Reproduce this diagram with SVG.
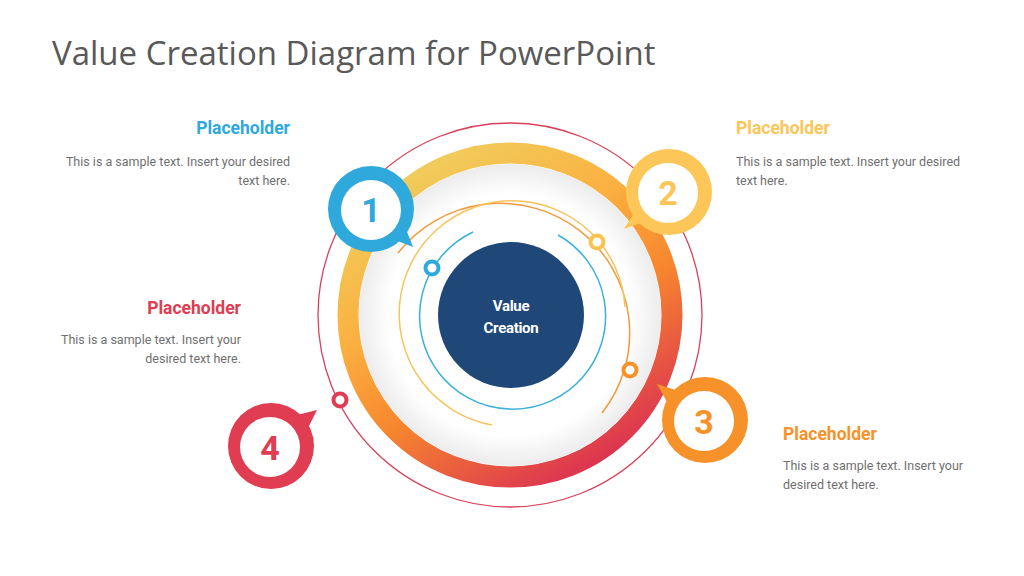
<svg xmlns="http://www.w3.org/2000/svg" width="1024" height="576" viewBox="0 0 1024 576">
<defs>
<linearGradient id="ring" x1="0.2" y1="0" x2="0.8" y2="1">
<stop offset="0" stop-color="#efd060"/>
<stop offset="0.35" stop-color="#fbb040"/>
<stop offset="0.6" stop-color="#f7862e"/>
<stop offset="1" stop-color="#d92a55"/>
</linearGradient>
<radialGradient id="disc" cx="0.5" cy="0.5" r="0.5">
<stop offset="0.8" stop-color="#ffffff"/>
<stop offset="1" stop-color="#ececec"/>
</radialGradient>
<style>
.h{font-family:Roboto,"Liberation Sans",sans-serif;font-weight:bold;font-size:17.5px}
.b{font-family:Roboto,"Liberation Sans",sans-serif;font-size:12.5px;fill:#6f6f6f}
.n{font-family:Roboto,"Liberation Sans",sans-serif;font-weight:bold;font-size:34px;text-anchor:middle}
.arc{fill:none;stroke-width:1.5}
.dot{fill:#fff;stroke-width:4}
</style>
</defs>
<rect width="1024" height="576" fill="#fff"/>
<text x="52" y="65" font-family="'Open Sans','Liberation Sans',sans-serif" font-size="33" fill="#595959">Value Creation Diagram for PowerPoint</text>

<g id="rings">
<circle cx="510" cy="315" r="192" fill="none" stroke="#d8415a" stroke-width="1.3"/>
<circle cx="510" cy="315" r="162" fill="none" stroke="url(#ring)" stroke-width="21"/>
<circle cx="510" cy="315" r="151" fill="url(#disc)"/>
<path class="arc" stroke="#f39a3a" d="M398,253 A128,128 0 1 1 602,413"/>
<path class="arc" stroke="#f7c35a" d="M492,425 A113,113 0 1 1 625,307"/>
<path class="arc" stroke="#3ab0dc" d="M558,235 A93,93 0 1 1 473,232"/>
<circle class="dot" cx="432" cy="268" r="6.5" stroke="#2fa9dc"/>
<circle class="dot" cx="597" cy="242" r="6.5" stroke="#fcc24f"/>
<circle class="dot" cx="630" cy="370" r="6.5" stroke="#f7922a"/>
<circle class="dot" cx="340" cy="400" r="6.5" stroke="#e03c52"/>
</g>

<g id="center">
<circle cx="511" cy="315" r="73" fill="#1f4878"/>
<text x="511" y="311" text-anchor="middle" font-family="Roboto,'Liberation Sans',sans-serif" font-weight="bold" font-size="15" fill="#fff" letter-spacing="-0.3">Value</text>
<text x="511" y="333" text-anchor="middle" font-family="Roboto,'Liberation Sans',sans-serif" font-weight="bold" font-size="15" fill="#fff" letter-spacing="-0.3">Creation</text>
</g>

<g id="badge1">
<polygon points="385,236 413,247 400,214" fill="#2fa9dc"/>
<circle cx="371" cy="209" r="43" fill="#2fa9dc"/>
<circle cx="371" cy="210" r="30" fill="#fff"/>
<text class="n" x="371" y="222" fill="#2fa9dc">1</text>
</g>
<g id="badge2">
<polygon points="655,218 624,229 642,200" fill="#fcc659"/>
<circle cx="669" cy="192" r="43" fill="#fcc659"/>
<circle cx="668" cy="193" r="30" fill="#fff"/>
<text class="n" x="668" y="205" fill="#fcc659">2</text>
</g>
<g id="badge3">
<polygon points="688,394 657,384 676,418" fill="#f7922a"/>
<circle cx="705" cy="420" r="43" fill="#f7922a"/>
<circle cx="704" cy="421" r="30" fill="#fff"/>
<text class="n" x="704" y="434" fill="#f7922a">3</text>
</g>
<g id="badge4">
<polygon points="285,418 317,410 300,444" fill="#e03c52"/>
<circle cx="271" cy="446" r="43" fill="#e03c52"/>
<circle cx="270" cy="447" r="30" fill="#fff"/>
<text class="n" x="270" y="460" fill="#e03c52">4</text>
</g>

<g id="text1" text-anchor="end">
<text class="h" x="290" y="134" fill="#2fa9dc">Placeholder</text>
<text class="b" x="290" y="166">This is a sample text. Insert your desired</text>
<text class="b" x="290" y="185">text here.</text>
</g>
<g id="text2">
<text class="h" x="736" y="134" fill="#fcc659">Placeholder</text>
<text class="b" x="736" y="166">This is a sample text. Insert your desired</text>
<text class="b" x="736" y="185">text here.</text>
</g>
<g id="text4" text-anchor="end">
<text class="h" x="241" y="314" fill="#e03c52">Placeholder</text>
<text class="b" x="241" y="344">This is a sample text. Insert your</text>
<text class="b" x="241" y="363">desired text here.</text>
</g>
<g id="text3">
<text class="h" x="783" y="440" fill="#f7922a">Placeholder</text>
<text class="b" x="783" y="470">This is a sample text. Insert your</text>
<text class="b" x="783" y="489">desired text here.</text>
</g>
</svg>
